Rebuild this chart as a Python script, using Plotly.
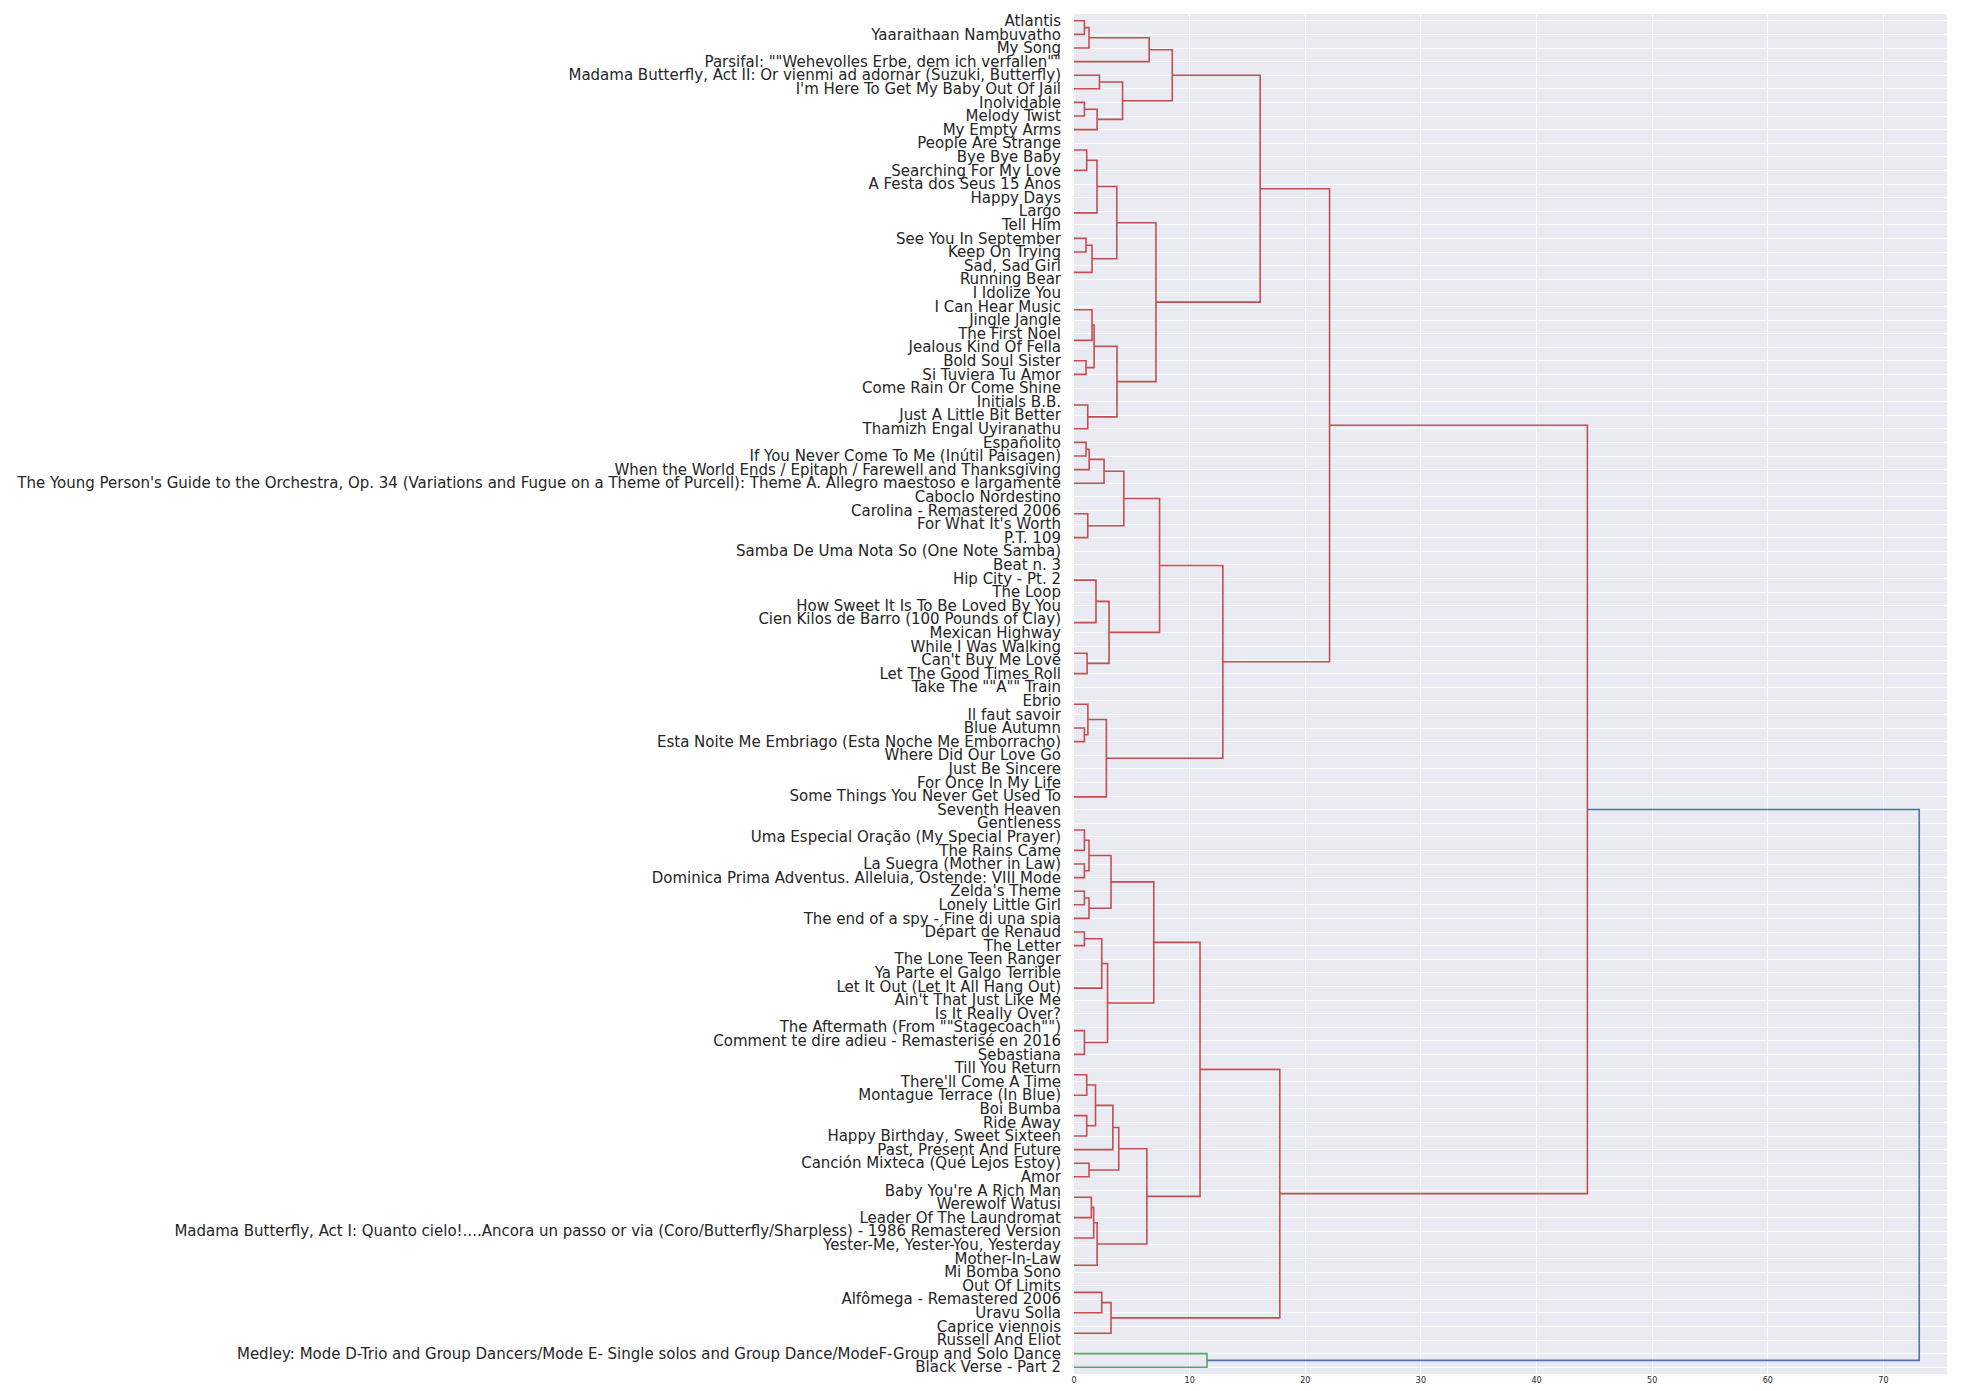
import plotly.graph_objects as go

labels = [
    "Atlantis", "Yaaraithaan Nambuvatho", "My Song",
    'Parsifal: ""Wehevolles Erbe, dem ich verfallen""',
    "Madama Butterfly, Act II: Or vienmi ad adornar (Suzuki, Butterfly)",
    "I'm Here To Get My Baby Out Of Jail", "Inolvidable", "Melody Twist",
    "My Empty Arms", "People Are Strange", "Bye Bye Baby", "Searching For My Love",
    "A Festa dos Seus 15 Anos", "Happy Days", "Largo", "Tell Him",
    "See You In September", "Keep On Trying", "Sad, Sad Girl", "Running Bear",
    "I Idolize You", "I Can Hear Music", "Jingle Jangle", "The First Noel",
    "Jealous Kind Of Fella", "Bold Soul Sister", "Si Tuviera Tu Amor",
    "Come Rain Or Come Shine", "Initials B.B.", "Just A Little Bit Better",
    "Thamizh Engal Uyiranathu", "Españolito",
    "If You Never Come To Me (Inútil Paisagen)",
    "When the World Ends / Epitaph / Farewell and Thanksgiving",
    "The Young Person's Guide to the Orchestra, Op. 34 (Variations and Fugue on a Theme of Purcell): Theme A. Allegro maestoso e largamente",
    "Caboclo Nordestino", "Carolina - Remastered 2006", "For What It's Worth",
    "P.T. 109", "Samba De Uma Nota So (One Note Samba)", "Beat n. 3",
    "Hip City - Pt. 2", "The Loop", "How Sweet It Is To Be Loved By You",
    "Cien Kilos de Barro (100 Pounds of Clay)", "Mexican Highway",
    "While I Was Walking", "Can't Buy Me Love", "Let The Good Times Roll",
    'Take The ""A"" Train', "Ebrio", "Il faut savoir", "Blue Autumn",
    "Esta Noite Me Embriago (Esta Noche Me Emborracho)", "Where Did Our Love Go",
    "Just Be Sincere", "For Once In My Life", "Some Things You Never Get Used To",
    "Seventh Heaven", "Gentleness", "Uma Especial Oração (My Special Prayer)",
    "The Rains Came", "La Suegra (Mother in Law)",
    "Dominica Prima Adventus. Alleluia, Ostende: VIII Mode", "Zelda's Theme",
    "Lonely Little Girl", "The end of a spy - Fine di una spia",
    "Départ de Renaud", "The Letter", "The Lone Teen Ranger",
    "Ya Parte el Galgo Terrible", "Let It Out (Let It All Hang Out)",
    "Ain't That Just Like Me", "Is It Really Over?",
    'The Aftermath (From ""Stagecoach"")',
    "Comment te dire adieu - Remasterisé en 2016", "Sebastiana",
    "Till You Return", "There'll Come A Time", "Montague Terrace (In Blue)",
    "Boi Bumba", "Ride Away", "Happy Birthday, Sweet Sixteen",
    "Past, Present And Future", "Canción Mixteca (Qué Lejos Estoy)", "Amor",
    "Baby You're A Rich Man", "Werewolf Watusi", "Leader Of The Laundromat",
    "Madama Butterfly, Act I: Quanto cielo!....Ancora un passo or via (Coro/Butterfly/Sharpless) - 1986 Remastered Version",
    "Yester-Me, Yester-You, Yesterday", "Mother-In-Law", "Mi Bomba Sono",
    "Out Of Limits", "Alfômega - Remastered 2006", "Uravu Solla",
    "Caprice viennois", "Russell And Eliot",
    "Medley: Mode D-Trio and Group Dancers/Mode E- Single solos and Group Dance/ModeF-Group and Solo Dance",
    "Black Verse - Part 2",
]

# linkage: [child_a, child_b, distance]; ids >= 100 refer to earlier merges (100 + row)
merge_a = [0, 100, 101, 4, 6, 104, 103, 102,
           9, 108, 12, 110, 111, 109, 16, 18, 114, 113, 20, 118, 23, 119, 25, 121, 27, 124, 125, 123, 117, 107,
           31, 130, 131, 35, 133, 134, 132, 39, 137, 138, 43, 140, 139, 46, 143, 142, 136,
           49, 147, 52, 148, 54, 151, 152, 153, 150, 146, 129,
           59, 158, 62, 159, 64, 162, 161, 67, 69, 166, 167, 165, 73, 170, 171, 169, 164,
           77, 175, 80, 177, 176, 179, 84, 180, 86, 183, 89, 184, 91, 186, 182, 174,
           93, 191, 96, 192, 190, 157, 98, 196]
merge_b = [1, 2, 3, 5, 7, 8, 105, 106,
           10, 11, 13, 14, 15, 112, 17, 19, 115, 116, 21, 22, 24, 120, 26, 122, 28, 29, 30, 126, 127, 128,
           32, 33, 34, 36, 37, 38, 135, 40, 41, 42, 44, 45, 141, 47, 48, 144, 145,
           50, 51, 53, 149, 55, 56, 57, 58, 154, 155, 156,
           60, 61, 63, 160, 65, 66, 163, 68, 70, 71, 72, 168, 74, 75, 76, 172, 173,
           78, 79, 81, 82, 178, 83, 85, 181, 87, 88, 90, 185, 92, 187, 188, 189,
           94, 95, 97, 193, 194, 195, 99, 197]
merge_h = [0.9, 1.3, 6.5, 2.2, 0.9, 2.0, 4.2, 8.5,
           0.0, 1.10, 0.0, 0.0, 0.0, 1.99, 1.04, 0.0, 1.56, 3.70, 0.0, 0.0, 0.0, 1.56, 1.04, 1.74, 0.0, 0.0, 1.19, 3.72, 7.09, 16.1,
           1.04, 1.31, 2.60, 0.0, 0.0, 1.19, 4.31, 0.0, 0.0, 0.0, 0.0, 0.0, 1.90, 0.0, 1.13, 3.03, 7.40,
           0.0, 0.0, 0.9, 1.2, 0.0, 0.0, 0.0, 0.0, 2.8, 12.87, 22.1,
           0.0, 0.9, 0.9, 1.3, 0.9, 1.3, 3.2, 0.9, 0.0, 0.0, 0.0, 2.4, 0.0, 0.0, 0.9, 2.9, 6.9,
           0.0, 1.1, 0.0, 1.1, 1.86, 3.36, 1.3, 3.87, 0.0, 1.5, 0.0, 1.7, 0.0, 2.0, 6.3, 10.9,
           0.0, 2.4, 0.0, 3.2, 17.8, 44.4, 11.5, 73.1]

x_ticks = [0, 10, 20, 30, 40, 50, 60, 70]
x_max = 75.5

ABOVE_COLOR = "#4C72B0"
GROUP_COLORS = ["#55A868", "#C44E52"]  # assigned to groups from the bottom up

n = len(labels)
pos = {i: float(i) for i in range(n)}
hgt = {i: 0.0 for i in range(n)}
children = {}
for k, (a, b, h) in enumerate(zip(merge_a, merge_b, merge_h)):
    node = n + k
    pos[node] = (pos[a] + pos[b]) / 2.0
    hgt[node] = h
    children[node] = (a, b)

root = n + len(merge_h) - 1
max_h = max(merge_h)
thresh = 0.7 * max_h

groups = []
stack = [root]
while stack:
    nd = stack.pop()
    if nd < n:
        continue
    if hgt[nd] <= thresh:
        groups.append(nd)
    else:
        stack.extend(children[nd])
groups.sort(key=lambda g: -pos[g])  # bottom first
node_color = {}
for gi, g in enumerate(groups):
    col = GROUP_COLORS[gi % len(GROUP_COLORS)]
    st = [g]
    while st:
        nd = st.pop()
        if nd >= n:
            node_color[nd] = col
            st.extend(children[nd])

paths = {}
for k in range(len(merge_h)):
    nd = n + k
    if hgt[nd] == 0:
        continue  # zero-distance link lies on the axis edge
    a, b = children[nd]
    col = node_color.get(nd, ABOVE_COLOR)
    xs, ys = paths.setdefault(col, ([], []))
    xs += [hgt[a], hgt[nd], hgt[nd], hgt[b], None]
    ys += [pos[a], pos[a], pos[b], pos[b], None]

fig = go.Figure()
for col, (xs, ys) in paths.items():
    fig.add_trace(go.Scatter(x=xs, y=ys, mode="lines",
                             line=dict(color=col, width=1.6),
                             hoverinfo="skip", showlegend=False))

fig.update_layout(
    width=1965, height=1391,
    margin=dict(l=1066, r=26, t=6, b=25),
    paper_bgcolor="white", plot_bgcolor="#EAEAF2",
    font=dict(family="DejaVu Sans", color="#262626"),
    showlegend=False,
)
fig.update_xaxes(range=[0, x_max], tickvals=x_ticks, ticktext=[str(t) for t in x_ticks],
                 showgrid=True, gridcolor="white", gridwidth=1.2, zeroline=False,
                 showline=False, ticks="", automargin=False,
                 tickfont=dict(size=8, color="#262626"))
fig.update_yaxes(range=[n - 0.5, -0.5], tickvals=list(range(n)), ticktext=labels,
                 showgrid=True, gridcolor="white", gridwidth=1.2, zeroline=False,
                 showline=False, ticks="outside", ticklen=9, tickcolor="rgba(0,0,0,0)",
                 automargin=False, tickfont=dict(size=15, color="#262626"))

fig.write_html("out.html")
